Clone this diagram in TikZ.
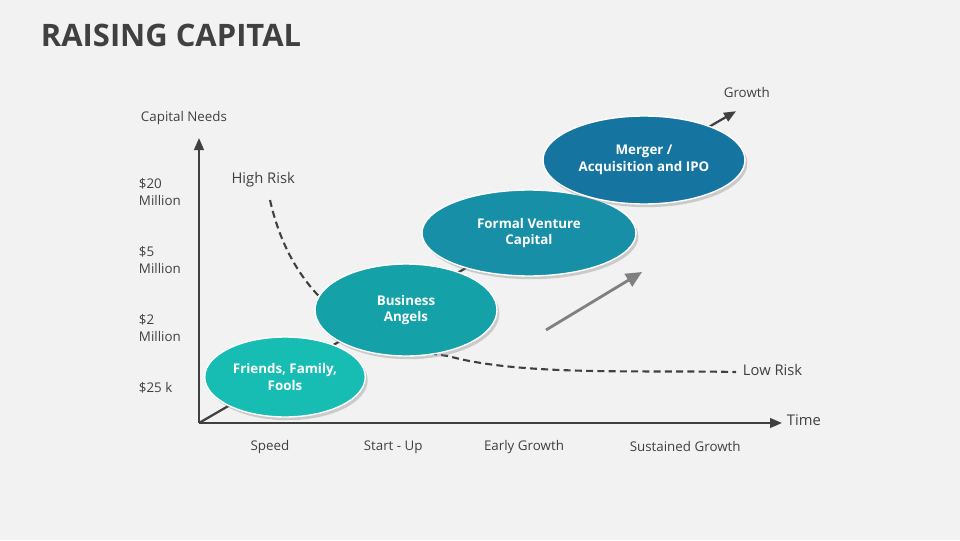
\documentclass[tikz,border=0pt]{standalone}
\usepackage{fontspec}
\setmainfont{Open Sans}
\usepackage{tikz}
\usetikzlibrary{positioning,shapes.geometric,arrows.meta,shadows}
\definecolor{bgc}{HTML}{F2F2F2}
\definecolor{ink}{HTML}{404040}
\definecolor{axisc}{HTML}{404040}
\definecolor{cA}{HTML}{17BDB2}
\definecolor{cB}{HTML}{14A2A8}
\definecolor{cC}{HTML}{168FA7}
\definecolor{cD}{HTML}{1674A1}
\tikzset{
	stage/.style={shape=ellipse,draw=white,line width=1pt,text=white,align=center,font=\fontsize{9.5}{12}\selectfont\bfseries,drop shadow={opacity=0.35,shadow xshift=0.6mm,shadow yshift=-0.8mm}},
	lbl/.style={text=ink,align=left,font=\fontsize{9.5}{12}\selectfont},
	tick/.style={text=ink,font=\fontsize{9.5}{12}\selectfont}
}
\begin{document}
\begin{tikzpicture}
	\fill[bgc] (0,0) rectangle (24,13.5);
	\useasboundingbox (0,0) rectangle (24,13.5);
	
	\node[anchor=west,text=ink,font=\fontsize{22}{26}\selectfont\bfseries] (title) at (0.9,12.62) {RAISING CAPITAL};
	
	\coordinate (o) at (4.975,2.925);
	\coordinate (ytop) at (4.975,10.05);
	\coordinate (xend) at (19.55,2.925);
	\coordinate (gend) at (18.4,10.72);
	
	\draw[axisc, line width=1.6pt, -{Triangle[length=3mm,width=2.4mm]}] (o) -- (ytop);
	\draw[axisc, line width=1.6pt, -{Triangle[length=3mm,width=2.4mm]}] (o) -- (xend);
	\draw[axisc, line width=1.6pt, -{Triangle[length=3mm,width=2.4mm]}] (o) -- (gend);
	
	\draw[ink, dashed, line width=1.5pt, dash pattern=on 5pt off 3pt] (6.75,8.5) .. controls (7.4,5.6) and (9.6,4.8) .. (11.2,4.6) .. controls (13,4.1) and (16,4.25) .. (18.4,4.2);
	
	\node[stage,fill=cA,minimum width=4cm,minimum height=2cm] (fff) at (7.125,4.075) {Friends, Family,\\Fools};
	\node[stage,fill=cB,minimum width=4.55cm,minimum height=2.3cm] (ba) at (10.15,5.75) {Business\\Angels};
	\node[stage,fill=cC,minimum width=5.35cm,minimum height=2.15cm] (fvc) at (13.225,7.675) {Formal Venture\\Capital};
	\node[stage,fill=cD,minimum width=5.05cm,minimum height=2.2cm] (mai) at (16.1,9.5) {Merger /\\Acquisition and IPO};
	
	\coordinate (ua) at (13.65,5.25);
	\coordinate (ub) at (16.05,6.7);
	\draw[gray, line width=2pt, -{Triangle[length=4mm,width=3.6mm]}] (ua) -- (ub);
	
	\node[lbl,anchor=west] (cn) at (3.4,10.55) {Capital Needs};
	\node[lbl,anchor=west] (m20) at (3.35,8.7) {\$20\\Million};
	\node[lbl,anchor=west] (m5) at (3.35,7.0) {\$5\\Million};
	\node[lbl,anchor=west] (m2) at (3.35,5.3) {\$2\\Million};
	\node[lbl,anchor=west] (k25) at (3.35,3.8) {\$25 k};
	\node[lbl,font=\fontsize{10.5}{12}\selectfont] (hr) at (6.58,9.0) {High Risk};
	\node[lbl,anchor=west,font=\fontsize{10.5}{12}\selectfont] (lr) at (18.45,4.25) {Low Risk};
	\node[lbl,anchor=west,font=\fontsize{10.5}{12}\selectfont] (tm) at (19.55,3.0) {Time};
	\node[lbl] (gr) at (18.67,11.18) {Growth};
	
	\node[tick] (s1) at (6.75,2.33) {Speed};
	\node[tick] (s2) at (9.83,2.33) {Start - Up};
	\node[tick] (s3) at (13.1,2.33) {Early Growth};
	\node[tick] (s4) at (17.13,2.33) {Sustained Growth};

\end{tikzpicture}
\end{document}
